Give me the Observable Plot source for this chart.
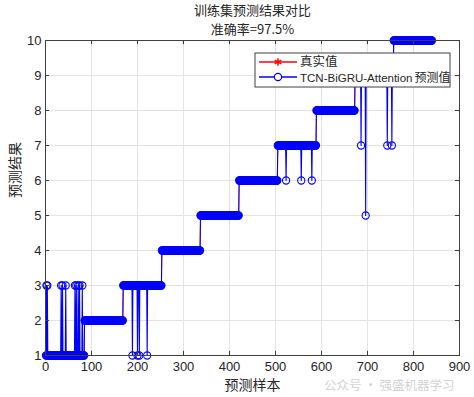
<!DOCTYPE html>
<html><head><meta charset="utf-8">
<script src="https://cdn.jsdelivr.net/npm/d3@7"></script>
<script src="https://cdn.jsdelivr.net/npm/@observablehq/plot@0.6"></script>
<style>
body{margin:0;background:#fff}
#chart{position:relative;width:474px;height:397px;overflow:hidden}
</style>
</head><body><div id="chart"></div>
<script>
// ---- data ----
const classLabels = [1, 2, 3, 4, 5, 6, 7, 8, 9, 10];
const classCounts = [84, 84, 84, 84, 84, 84, 84, 84, 84, 84];
// misclassified samples (sample number, predicted class)
const errorIndex = [2, 4, 34, 37, 44, 64, 67, 71, 74, 80, 189, 200, 204, 221, 523, 556, 579, 686, 696, 743, 753];
const errorPred  = [3, 3, 3, 3, 3, 3, 3, 3, 3, 3, 1, 1, 1, 1, 6, 6, 6, 7, 5, 7, 7];
const xTicks = [0, 100, 200, 300, 400, 500, 600, 700, 800, 900];
const yTicks = [1, 2, 3, 4, 5, 6, 7, 8, 9, 10];
const titleLines = ["训练集预测结果对比", "准确率=97.5%"];
const xLabel = "预测样本";
const yLabel = "预测结果";
const legendNames = ["真实值", "TCN-BiGRU-Attention"];
const legendSuffix = "预测值";
const watermark = "公众号 · 强盛机器学习";

// ---- build table ----
const trueVals = [];
classLabels.forEach((c, i) => { for (let k = 0; k < classCounts[i]; k++) trueVals.push(c); });
const predVals = trueVals.slice();
errorIndex.forEach((idx, i) => { predVals[idx - 1] = errorPred[i]; });
const data = trueVals.map((t, i) => ({i: i + 1, t, p: predVals[i]}));

const cjk = "'Noto Sans CJK SC', sans-serif";
const latin = "'Liberation Sans', Arial, sans-serif";
const axisColor = "#404040";

const plot = Plot.plot({
  width: 474, height: 397,
  marginTop: 40, marginLeft: 45, marginRight: 15, marginBottom: 42,
  style: {fontFamily: latin, fontSize: "13px", color: "#262626", background: "#fff"},
  x: {domain: [0, 900]},
  y: {domain: [1, 10]},
  marks: [
    Plot.gridX(xTicks, {stroke: "#e3e3e3", strokeOpacity: 1}),
    Plot.gridY(yTicks, {stroke: "#e3e3e3", strokeOpacity: 1}),
    Plot.line(data, {x: "i", y: "t", stroke: "#ff0000", strokeWidth: 0.8}),
    Plot.dot(data, {x: "i", y: "t", symbol: "asterisk", r: 3, stroke: "#ff0000"}),
    Plot.line(data, {x: "i", y: "p", stroke: "#0000ff", strokeWidth: 1.1}),
    Plot.dot(data, {x: "i", y: "p", r: 3.6, stroke: "#0000ff", strokeWidth: 1.1, fill: "none"}),
    Plot.frame({stroke: axisColor}),
    Plot.ruleX(xTicks, {y1: 1, y2: 1.12, stroke: axisColor}),
    Plot.ruleX(xTicks, {y1: 10, y2: 9.88, stroke: axisColor}),
    Plot.ruleY(yTicks, {x1: 0, x2: 9, stroke: axisColor}),
    Plot.ruleY(yTicks, {x1: 900, x2: 891, stroke: axisColor}),
    Plot.axisX(xTicks, {anchor: "bottom", tickSize: 0, tickPadding: 6, label: null, fontSize: 13}),
    Plot.axisY(yTicks, {anchor: "left", tickSize: 0, tickPadding: 4, label: null, fontSize: 13}),
    Plot.text([titleLines[0]], {frameAnchor: "top", lineAnchor: "middle", dy: -30, fontFamily: cjk, fontSize: 13, fill: "#262626"}),
    Plot.text([titleLines[1]], {frameAnchor: "top", lineAnchor: "middle", dy: -11, fontFamily: cjk, fontSize: 13, fill: "#262626"}),
    Plot.text([xLabel], {frameAnchor: "bottom", lineAnchor: "middle", dy: 30, fontFamily: cjk, fontSize: 14, fill: "#262626"}),
    Plot.text([yLabel], {frameAnchor: "left", lineAnchor: "middle", dx: -30, rotate: -90, fontFamily: cjk, fontSize: 14, fill: "#262626"})
  ]
});
document.getElementById("chart").appendChild(plot);

// ---- legend (MATLAB style box) ----
const svg = d3.select(plot);
const lg = svg.append("g").attr("text-anchor", "start");
lg.append("rect").attr("x", 255).attr("y", 53).attr("width", 195).attr("height", 34)
  .attr("fill", "#fff").attr("stroke", axisColor).attr("stroke-width", 1);
const rows = [{y: 62, color: "#ff0000", sym: d3.symbolAsterisk}, {y: 77, color: "#0000ff", sym: null}];
rows.forEach((r) => {
  lg.append("line").attr("x1", 259).attr("x2", 297).attr("y1", r.y).attr("y2", r.y)
    .attr("stroke", r.color).attr("stroke-width", 1.5);
  if (r.sym) {
    lg.append("path").attr("d", d3.symbol(r.sym, 40)()).attr("transform", `translate(278,${r.y})`)
      .attr("stroke", r.color).attr("stroke-width", 1.5).attr("fill", "none");
  } else {
    lg.append("circle").attr("cx", 278).attr("cy", r.y).attr("r", 3.6)
      .attr("stroke", r.color).attr("stroke-width", 1.2).attr("fill", "#fff");
  }
});
lg.append("text").attr("x", 300).attr("y", 62).attr("dy", "0.35em").attr("text-anchor", "start")
  .attr("font-family", cjk).attr("font-size", 12.5).attr("fill", "#262626").text(legendNames[0]);
const t2 = lg.append("text").attr("x", 300).attr("y", 77).attr("dy", "0.35em")
  .attr("text-anchor", "start").attr("fill", "#262626");
t2.append("tspan").attr("font-family", latin).attr("font-size", 11.5).text(legendNames[1]);
t2.append("tspan").attr("font-family", cjk).attr("font-size", 12).attr("dx", 2).text(legendSuffix);

// watermark
svg.append("text").attr("x", 324).attr("y", 390).attr("text-anchor", "start").attr("font-family", cjk)
  .attr("font-size", 12.5).attr("fill", "#d2d2d2").text(watermark);
</script>
</body></html>
